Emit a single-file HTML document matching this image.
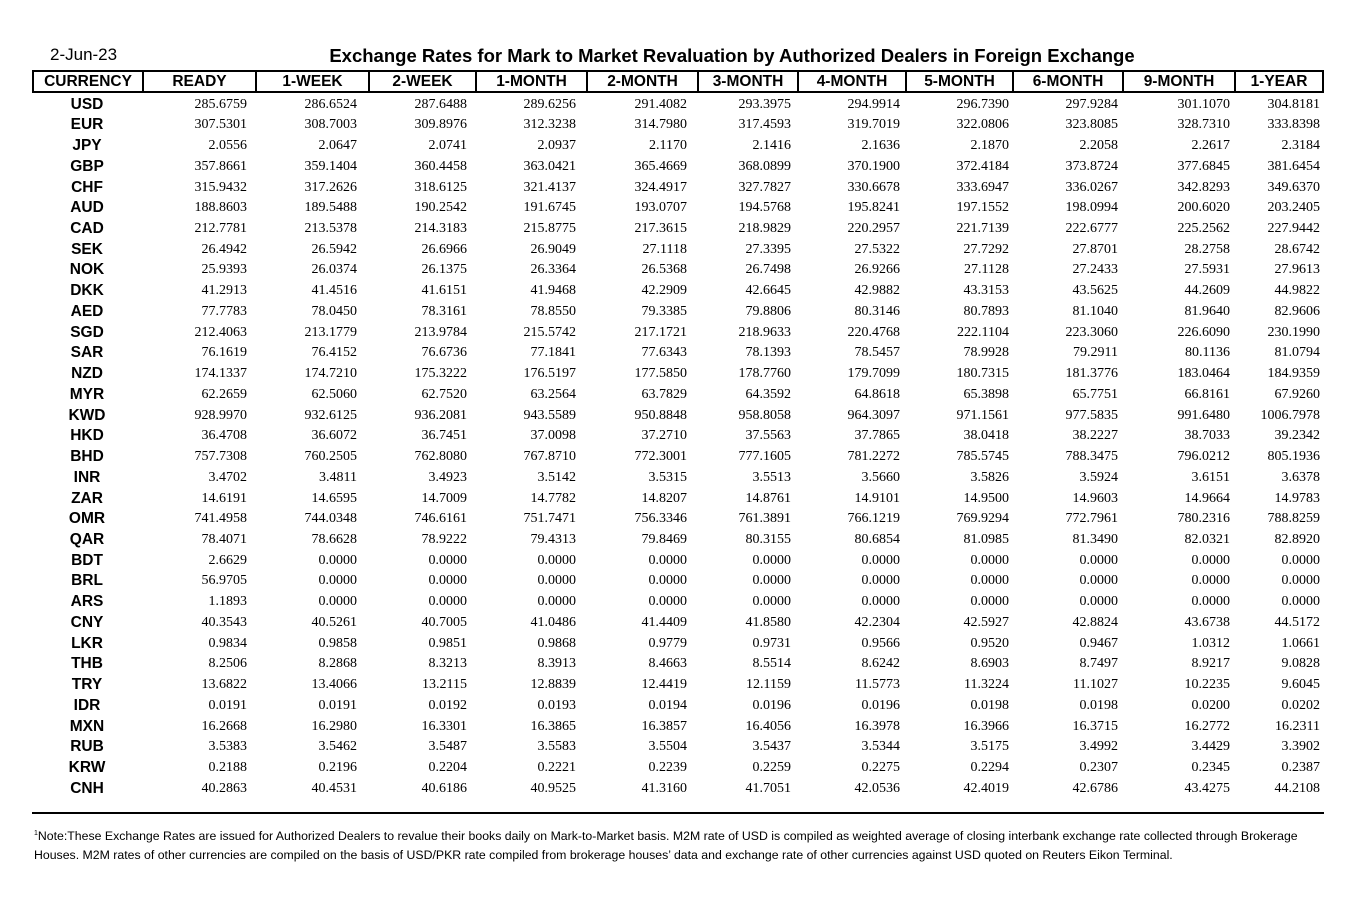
<!DOCTYPE html>
<html><head><meta charset="utf-8">
<style>
body{margin:0;width:1351px;height:916px;background:#fff;position:relative;overflow:hidden;font-family:"Liberation Sans",sans-serif;color:#000}
#date{position:absolute;left:50px;top:45px;font-size:17px}
#title{position:absolute;left:0;width:1464px;text-align:center;top:45px;font-size:18.5px;font-weight:bold}
table{position:absolute;left:32px;border-collapse:collapse;table-layout:fixed}
#head{top:70px;width:1290px}
#head td{border:2px solid #000;height:19px;padding:0;text-align:center;font-weight:bold;font-size:15.5px;line-height:19px}
#body{top:94.6px;width:1290px}
#body td{height:20.73px;padding:0;text-align:right;font-family:"Liberation Serif",serif;font-size:14px;line-height:20.73px}
#body td.c{text-align:center;font-family:"Liberation Sans",sans-serif;font-weight:bold;font-size:15.5px}
#body td:nth-child(2){padding-right:8px}
#body td:nth-child(3){padding-right:11px}
#body td:nth-child(4){padding-right:8px}
#body td:nth-child(5){padding-right:10px}
#body td:nth-child(6){padding-right:10px}
#body td:nth-child(7){padding-right:6px}
#body td:nth-child(8){padding-right:5px}
#body td:nth-child(9){padding-right:3px}
#body td:nth-child(10){padding-right:4px}
#body td:nth-child(11){padding-right:4px}
#body td:nth-child(12){padding-right:2px}
#rule{position:absolute;left:32px;top:812px;width:1292px;height:2px;background:#000}
#note{position:absolute;left:34px;top:824px;width:1300px;font-size:12.3px;line-height:19px;white-space:nowrap}
#note sup{font-size:7px}
</style></head><body>
<div id="date">2-Jun-23</div>
<div id="title">Exchange Rates for Mark to Market Revaluation by Authorized Dealers in Foreign Exchange</div>
<table id="head">
<colgroup><col style="width:110px"><col style="width:113px"><col style="width:113px"><col style="width:107px"><col style="width:111px"><col style="width:111px"><col style="width:100px"><col style="width:108px"><col style="width:107px"><col style="width:110px"><col style="width:112px"><col style="width:88px"></colgroup>
<tr><td>CURRENCY</td><td>READY</td><td>1-WEEK</td><td>2-WEEK</td><td>1-MONTH</td><td>2-MONTH</td><td>3-MONTH</td><td>4-MONTH</td><td>5-MONTH</td><td>6-MONTH</td><td>9-MONTH</td><td>1-YEAR</td></tr>
</table>
<table id="body">
<colgroup><col style="width:110px"><col style="width:113px"><col style="width:113px"><col style="width:107px"><col style="width:111px"><col style="width:111px"><col style="width:100px"><col style="width:108px"><col style="width:107px"><col style="width:110px"><col style="width:112px"><col style="width:88px"></colgroup>
<tr><td class="c">USD</td><td>285.6759</td><td>286.6524</td><td>287.6488</td><td>289.6256</td><td>291.4082</td><td>293.3975</td><td>294.9914</td><td>296.7390</td><td>297.9284</td><td>301.1070</td><td>304.8181</td></tr>
<tr><td class="c">EUR</td><td>307.5301</td><td>308.7003</td><td>309.8976</td><td>312.3238</td><td>314.7980</td><td>317.4593</td><td>319.7019</td><td>322.0806</td><td>323.8085</td><td>328.7310</td><td>333.8398</td></tr>
<tr><td class="c">JPY</td><td>2.0556</td><td>2.0647</td><td>2.0741</td><td>2.0937</td><td>2.1170</td><td>2.1416</td><td>2.1636</td><td>2.1870</td><td>2.2058</td><td>2.2617</td><td>2.3184</td></tr>
<tr><td class="c">GBP</td><td>357.8661</td><td>359.1404</td><td>360.4458</td><td>363.0421</td><td>365.4669</td><td>368.0899</td><td>370.1900</td><td>372.4184</td><td>373.8724</td><td>377.6845</td><td>381.6454</td></tr>
<tr><td class="c">CHF</td><td>315.9432</td><td>317.2626</td><td>318.6125</td><td>321.4137</td><td>324.4917</td><td>327.7827</td><td>330.6678</td><td>333.6947</td><td>336.0267</td><td>342.8293</td><td>349.6370</td></tr>
<tr><td class="c">AUD</td><td>188.8603</td><td>189.5488</td><td>190.2542</td><td>191.6745</td><td>193.0707</td><td>194.5768</td><td>195.8241</td><td>197.1552</td><td>198.0994</td><td>200.6020</td><td>203.2405</td></tr>
<tr><td class="c">CAD</td><td>212.7781</td><td>213.5378</td><td>214.3183</td><td>215.8775</td><td>217.3615</td><td>218.9829</td><td>220.2957</td><td>221.7139</td><td>222.6777</td><td>225.2562</td><td>227.9442</td></tr>
<tr><td class="c">SEK</td><td>26.4942</td><td>26.5942</td><td>26.6966</td><td>26.9049</td><td>27.1118</td><td>27.3395</td><td>27.5322</td><td>27.7292</td><td>27.8701</td><td>28.2758</td><td>28.6742</td></tr>
<tr><td class="c">NOK</td><td>25.9393</td><td>26.0374</td><td>26.1375</td><td>26.3364</td><td>26.5368</td><td>26.7498</td><td>26.9266</td><td>27.1128</td><td>27.2433</td><td>27.5931</td><td>27.9613</td></tr>
<tr><td class="c">DKK</td><td>41.2913</td><td>41.4516</td><td>41.6151</td><td>41.9468</td><td>42.2909</td><td>42.6645</td><td>42.9882</td><td>43.3153</td><td>43.5625</td><td>44.2609</td><td>44.9822</td></tr>
<tr><td class="c">AED</td><td>77.7783</td><td>78.0450</td><td>78.3161</td><td>78.8550</td><td>79.3385</td><td>79.8806</td><td>80.3146</td><td>80.7893</td><td>81.1040</td><td>81.9640</td><td>82.9606</td></tr>
<tr><td class="c">SGD</td><td>212.4063</td><td>213.1779</td><td>213.9784</td><td>215.5742</td><td>217.1721</td><td>218.9633</td><td>220.4768</td><td>222.1104</td><td>223.3060</td><td>226.6090</td><td>230.1990</td></tr>
<tr><td class="c">SAR</td><td>76.1619</td><td>76.4152</td><td>76.6736</td><td>77.1841</td><td>77.6343</td><td>78.1393</td><td>78.5457</td><td>78.9928</td><td>79.2911</td><td>80.1136</td><td>81.0794</td></tr>
<tr><td class="c">NZD</td><td>174.1337</td><td>174.7210</td><td>175.3222</td><td>176.5197</td><td>177.5850</td><td>178.7760</td><td>179.7099</td><td>180.7315</td><td>181.3776</td><td>183.0464</td><td>184.9359</td></tr>
<tr><td class="c">MYR</td><td>62.2659</td><td>62.5060</td><td>62.7520</td><td>63.2564</td><td>63.7829</td><td>64.3592</td><td>64.8618</td><td>65.3898</td><td>65.7751</td><td>66.8161</td><td>67.9260</td></tr>
<tr><td class="c">KWD</td><td>928.9970</td><td>932.6125</td><td>936.2081</td><td>943.5589</td><td>950.8848</td><td>958.8058</td><td>964.3097</td><td>971.1561</td><td>977.5835</td><td>991.6480</td><td>1006.7978</td></tr>
<tr><td class="c">HKD</td><td>36.4708</td><td>36.6072</td><td>36.7451</td><td>37.0098</td><td>37.2710</td><td>37.5563</td><td>37.7865</td><td>38.0418</td><td>38.2227</td><td>38.7033</td><td>39.2342</td></tr>
<tr><td class="c">BHD</td><td>757.7308</td><td>760.2505</td><td>762.8080</td><td>767.8710</td><td>772.3001</td><td>777.1605</td><td>781.2272</td><td>785.5745</td><td>788.3475</td><td>796.0212</td><td>805.1936</td></tr>
<tr><td class="c">INR</td><td>3.4702</td><td>3.4811</td><td>3.4923</td><td>3.5142</td><td>3.5315</td><td>3.5513</td><td>3.5660</td><td>3.5826</td><td>3.5924</td><td>3.6151</td><td>3.6378</td></tr>
<tr><td class="c">ZAR</td><td>14.6191</td><td>14.6595</td><td>14.7009</td><td>14.7782</td><td>14.8207</td><td>14.8761</td><td>14.9101</td><td>14.9500</td><td>14.9603</td><td>14.9664</td><td>14.9783</td></tr>
<tr><td class="c">OMR</td><td>741.4958</td><td>744.0348</td><td>746.6161</td><td>751.7471</td><td>756.3346</td><td>761.3891</td><td>766.1219</td><td>769.9294</td><td>772.7961</td><td>780.2316</td><td>788.8259</td></tr>
<tr><td class="c">QAR</td><td>78.4071</td><td>78.6628</td><td>78.9222</td><td>79.4313</td><td>79.8469</td><td>80.3155</td><td>80.6854</td><td>81.0985</td><td>81.3490</td><td>82.0321</td><td>82.8920</td></tr>
<tr><td class="c">BDT</td><td>2.6629</td><td>0.0000</td><td>0.0000</td><td>0.0000</td><td>0.0000</td><td>0.0000</td><td>0.0000</td><td>0.0000</td><td>0.0000</td><td>0.0000</td><td>0.0000</td></tr>
<tr><td class="c">BRL</td><td>56.9705</td><td>0.0000</td><td>0.0000</td><td>0.0000</td><td>0.0000</td><td>0.0000</td><td>0.0000</td><td>0.0000</td><td>0.0000</td><td>0.0000</td><td>0.0000</td></tr>
<tr><td class="c">ARS</td><td>1.1893</td><td>0.0000</td><td>0.0000</td><td>0.0000</td><td>0.0000</td><td>0.0000</td><td>0.0000</td><td>0.0000</td><td>0.0000</td><td>0.0000</td><td>0.0000</td></tr>
<tr><td class="c">CNY</td><td>40.3543</td><td>40.5261</td><td>40.7005</td><td>41.0486</td><td>41.4409</td><td>41.8580</td><td>42.2304</td><td>42.5927</td><td>42.8824</td><td>43.6738</td><td>44.5172</td></tr>
<tr><td class="c">LKR</td><td>0.9834</td><td>0.9858</td><td>0.9851</td><td>0.9868</td><td>0.9779</td><td>0.9731</td><td>0.9566</td><td>0.9520</td><td>0.9467</td><td>1.0312</td><td>1.0661</td></tr>
<tr><td class="c">THB</td><td>8.2506</td><td>8.2868</td><td>8.3213</td><td>8.3913</td><td>8.4663</td><td>8.5514</td><td>8.6242</td><td>8.6903</td><td>8.7497</td><td>8.9217</td><td>9.0828</td></tr>
<tr><td class="c">TRY</td><td>13.6822</td><td>13.4066</td><td>13.2115</td><td>12.8839</td><td>12.4419</td><td>12.1159</td><td>11.5773</td><td>11.3224</td><td>11.1027</td><td>10.2235</td><td>9.6045</td></tr>
<tr><td class="c">IDR</td><td>0.0191</td><td>0.0191</td><td>0.0192</td><td>0.0193</td><td>0.0194</td><td>0.0196</td><td>0.0196</td><td>0.0198</td><td>0.0198</td><td>0.0200</td><td>0.0202</td></tr>
<tr><td class="c">MXN</td><td>16.2668</td><td>16.2980</td><td>16.3301</td><td>16.3865</td><td>16.3857</td><td>16.4056</td><td>16.3978</td><td>16.3966</td><td>16.3715</td><td>16.2772</td><td>16.2311</td></tr>
<tr><td class="c">RUB</td><td>3.5383</td><td>3.5462</td><td>3.5487</td><td>3.5583</td><td>3.5504</td><td>3.5437</td><td>3.5344</td><td>3.5175</td><td>3.4992</td><td>3.4429</td><td>3.3902</td></tr>
<tr><td class="c">KRW</td><td>0.2188</td><td>0.2196</td><td>0.2204</td><td>0.2221</td><td>0.2239</td><td>0.2259</td><td>0.2275</td><td>0.2294</td><td>0.2307</td><td>0.2345</td><td>0.2387</td></tr>
<tr><td class="c">CNH</td><td>40.2863</td><td>40.4531</td><td>40.6186</td><td>40.9525</td><td>41.3160</td><td>41.7051</td><td>42.0536</td><td>42.4019</td><td>42.6786</td><td>43.4275</td><td>44.2108</td></tr>
</table>
<div id="rule"></div>
<div id="note"><sup>1</sup>Note:These Exchange Rates are issued for Authorized Dealers to revalue their books daily on Mark-to-Market basis. M2M rate of USD is compiled as weighted average of closing interbank exchange rate collected through Brokerage<br>Houses. M2M rates of other currencies are compiled on the basis of USD/PKR rate compiled from brokerage houses’ data and exchange rate of other currencies against USD quoted on Reuters Eikon Terminal.</div>
</body></html>
